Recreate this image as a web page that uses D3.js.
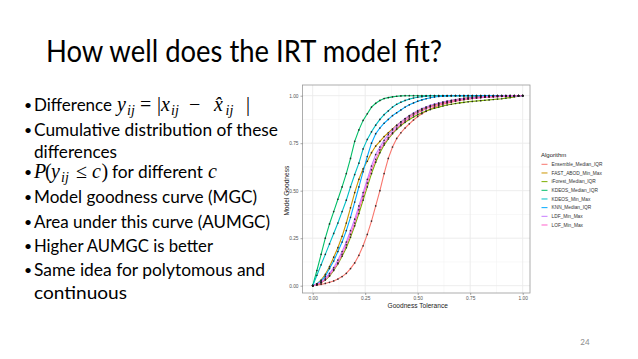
<!DOCTYPE html>
<html><head><meta charset="utf-8">
<script src="https://cdn.jsdelivr.net/npm/d3@7"></script>
<style>html,body{margin:0;padding:0;background:#fff;}svg{display:block;}</style>
</head><body>
<svg id="s" width="638" height="359"></svg>
<script>
const algorithms = ["Ensemble_Median_IQR","FAST_ABOD_Min_Max","iForest_Median_IQR","KDEOS_Median_IQR","KDEOS_Min_Max","KNN_Median_IQR","LDF_Min_Max","LOF_Min_Max"];
const colors = ["#F8766D","#CD9600","#7CAE00","#00BE67","#00BFC4","#00A9FF","#C77CFF","#FF61CC"];
const tolerance = [0,.02,.04,.06,.08,.10,.12,.14,.16,.18,.20,.22,.24,.26,.28,.30,.32,.34,.36,.38,.40,.42,.44,.46,.48,.50,.52,.54,.56,.58,.60,.62,.64,.66,.68,.70,.72,.74,.76,.78,.80,.82,.84,.86,.88,.90,.92,.94,.96,.98,1.00];
const ensembleMedianIQR = [0,.003,.007,.012,.018,.025,.035,.048,.065,.09,.12,.16,.21,.27,.34,.42,.5,.59,.67,.73,.775,.805,.83,.852,.872,.89,.905,.918,.93,.94,.948,.955,.961,.966,.971,.975,.979,.982,.985,.988,.99,.992,.994,.995,.996,.997,.998,.999,.999,1,1];
const fastAbodMinMax = [0,.01,.03,.06,.1,.15,.2,.26,.33,.41,.49,.56,.615,.655,.7,.735,.76,.785,.805,.825,.845,.862,.878,.893,.906,.918,.928,.937,.945,.952,.958,.964,.969,.974,.978,.982,.986,.989,.992,.994,.996,.998,.999,1,1,1,1,1,1,1,1];
const iForestMedianIQR = [0,.006,.015,.03,.05,.08,.115,.155,.2,.255,.315,.38,.45,.52,.59,.65,.7,.74,.772,.8,.823,.843,.86,.875,.888,.9,.91,.919,.927,.934,.94,.946,.951,.955,.959,.962,.965,.968,.97,.972,.974,.976,.978,.98,.982,.984,.987,.99,.994,.997,1];
const kdeosMedianIQR = [0,.08,.165,.25,.325,.39,.455,.52,.59,.67,.76,.82,.87,.905,.94,.96,.975,.985,.99,.994,.997,.999,1,1,1,1,1,1,1,1,1,1,1,1,1,1,1,1,1,1,1,1,1,1,1,1,1,1,1,1,1];
const kdeosMinMax = [0,.055,.11,.165,.22,.275,.33,.39,.45,.52,.585,.645,.72,.77,.81,.845,.875,.9,.92,.94,.955,.966,.975,.982,.988,.992,.995,.998,1,1,1,1,1,1,1,1,1,1,1,1,1,1,1,1,1,1,1,1,1,1,1];
const knnMedianIQR = [0,.01,.025,.05,.09,.13,.18,.23,.29,.36,.44,.52,.6,.68,.75,.8,.83,.855,.875,.895,.91,.925,.94,.952,.962,.971,.978,.984,.989,.993,.996,.998,.999,1,1,1,1,1,1,1,1,1,1,1,1,1,1,1,1,1,1];
const ldfMinMax = [0,.008,.02,.04,.065,.095,.135,.18,.23,.29,.35,.42,.49,.56,.63,.69,.73,.765,.795,.82,.842,.862,.88,.895,.909,.921,.932,.941,.949,.956,.962,.967,.972,.976,.98,.983,.986,.988,.99,.992,.994,.995,.996,.997,.998,.999,.999,1,1,1,1];
const lofMinMax = [0,.006,.016,.032,.055,.085,.12,.165,.215,.27,.33,.4,.47,.54,.61,.665,.715,.75,.78,.806,.83,.85,.868,.884,.898,.91,.921,.931,.94,.947,.954,.96,.965,.97,.974,.978,.981,.984,.986,.988,.99,.992,.993,.994,.995,.996,.997,.998,.999,.999,1];
const seriesValues = [ensembleMedianIQR,fastAbodMinMax,iForestMedianIQR,kdeosMedianIQR,kdeosMinMax,knnMedianIQR,ldfMinMax,lofMinMax];
const tickValues = [0,0.25,0.5,0.75,1];
const tickLabels = ["0.00","0.25","0.50","0.75","1.00"];
const minorTicks = [0.125,0.375,0.625,0.875];

const svg = d3.select("#s");
const sans = "Lato, 'Open Sans', sans-serif";
const serif = "'Liberation Serif', 'DejaVu Serif', serif";
const chartFont = "'Liberation Sans', Arial, sans-serif";

// Slide title
svg.append("text").attr("x",46).attr("y",62).attr("font-family",sans).attr("font-size",30)
  .attr("fill","#000").attr("textLength",396).attr("lengthAdjust","spacingAndGlyphs")
  .text("How well does the IRT model fit?");

// Bullets
const bl = [
  {y:111, t:"Difference", w:78, bullet:true},
  {y:136, t:"Cumulative distribution of these", w:244, bullet:true},
  {y:158, t:"differences", w:83, bullet:false},
  {y:203, t:"Model goodness curve (MGC)", w:223, bullet:true},
  {y:228, t:"Area under this curve (AUMGC)", w:236, bullet:true},
  {y:252, t:"Higher AUMGC is better", w:179, bullet:true},
  {y:276, t:"Same idea for polytomous and", w:231, bullet:true},
  {y:298.5, t:"continuous", w:93, bullet:false}
];
bl.forEach(b=>{
  if(b.bullet) svg.append("text").attr("x",24).attr("y",b.y-1).attr("font-family",sans).attr("font-size",14).text("•");
  svg.append("text").attr("x",34).attr("y",b.y).attr("font-family",sans).attr("font-size",18)
    .attr("textLength",b.w).attr("lengthAdjust","spacingAndGlyphs").text(b.t);
});
svg.append("text").attr("x",24).attr("y",177).attr("font-family",sans).attr("font-size",14).text("•");
function sym(x,y,s,italic){
  return svg.append("text").attr("x",x).attr("y",y).attr("font-family",serif).attr("font-size",20)
    .attr("font-style",italic?"italic":"normal").text(s);
}
function sub(x,y,s){
  return svg.append("text").attr("x",x).attr("y",y+4).attr("font-family",serif).attr("font-size",14)
    .attr("font-style","italic").text(s);
}
// line 1 math: y_ij = |x_ij − x̂_ij|
sym(117,111,"y",true); sub(127,111,"ij");
sym(140,111,"=",false);
sym(157,111,"|",false);
sym(161,111,"x",true); sub(171,111,"ij");
sym(189,111,"−",false);
sym(214,111,"x̂",true); sub(225.5,111,"ij");
sym(246,111,"|",false);
// line 4 math: P(y_ij ≤ c) for different c
sym(34,178,"P",true);
sym(45,178,"(",false);
sym(51,178,"y",true); sub(61,178,"ij");
sym(76,178,"≤",false);
sym(92,178,"c",true);
sym(101.5,178,")",false);
svg.append("text").attr("x",112).attr("y",178).attr("font-family",sans).attr("font-size",18)
  .attr("textLength",91).attr("lengthAdjust","spacingAndGlyphs").text("for different");
sym(208,178,"c",true);

// page number
svg.append("text").attr("x",585).attr("y",345).attr("text-anchor","middle").attr("font-family",sans)
  .attr("font-size",8).attr("fill","#8c8c8c").text("24");

// Chart
const x = d3.scaleLinear().domain([0,1]).range([312.7,522.7]);
const y = d3.scaleLinear().domain([0,1]).range([285.7,95.7]);
const panel = {x0:302.5, x1:530, y0:85, y1:293};
const g = svg.append("g");
minorTicks.forEach(v=>{
  g.append("line").attr("x1",x(v)).attr("x2",x(v)).attr("y1",panel.y0).attr("y2",panel.y1).attr("stroke","#f4f4f4").attr("stroke-width",0.6);
  g.append("line").attr("y1",y(v)).attr("y2",y(v)).attr("x1",panel.x0).attr("x2",panel.x1).attr("stroke","#f4f4f4").attr("stroke-width",0.6);
});
tickValues.forEach(v=>{
  g.append("line").attr("x1",x(v)).attr("x2",x(v)).attr("y1",panel.y0).attr("y2",panel.y1).attr("stroke","#ebebeb").attr("stroke-width",0.9);
  g.append("line").attr("y1",y(v)).attr("y2",y(v)).attr("x1",panel.x0).attr("x2",panel.x1).attr("stroke","#ebebeb").attr("stroke-width",0.9);
});
svg.append("rect").attr("x",panel.x0).attr("y",panel.y0).attr("width",panel.x1-panel.x0).attr("height",panel.y1-panel.y0)
  .attr("fill","none").attr("stroke","#9a9a9a").attr("stroke-width",0.8);

const line = d3.line().x((d,i)=>x(tolerance[i])).y(d=>y(d));
seriesValues.forEach((vals,k)=>{
  svg.append("path").datum(vals).attr("d",line).attr("fill","none").attr("stroke",colors[k]).attr("stroke-width",1.1);
});
seriesValues.forEach((vals,k)=>{
  svg.append("g").selectAll("circle").data(vals).join("circle")
    .attr("cx",(d,i)=>x(tolerance[i])).attr("cy",d=>y(d)).attr("r",0.85).attr("fill","#1a1a1a").attr("fill-opacity",0.85);
});

// axes
const xAxis = svg.append("g").attr("transform",`translate(0,${panel.y1})`)
  .call(d3.axisBottom(x).tickValues(tickValues).tickFormat((d,i)=>tickLabels[i]).tickSize(2).tickPadding(2));
const yAxis = svg.append("g").attr("transform",`translate(${panel.x0},0)`)
  .call(d3.axisLeft(y).tickValues(tickValues).tickFormat((d,i)=>tickLabels[i]).tickSize(2).tickPadding(2));
[xAxis,yAxis].forEach(a=>{
  a.select(".domain").remove();
  a.selectAll(".tick line").attr("stroke","#555").attr("stroke-width",0.5);
  a.selectAll(".tick text").attr("font-family",chartFont).attr("font-size",4.8).attr("fill","#555");
});
svg.append("text").attr("x",(x(0)+x(1))/2).attr("y",308).attr("text-anchor","middle")
  .attr("font-family",chartFont).attr("font-size",6.6).attr("fill","#222").text("Goodness Tolerance");
svg.append("text").attr("transform",`translate(289,${(y(0)+y(1))/2}) rotate(-90)`).attr("text-anchor","middle")
  .attr("font-family",chartFont).attr("font-size",6.6).attr("fill","#222").text("Model Goodness");

// legend
const leg = svg.append("g");
leg.append("text").attr("x",541).attr("y",157).attr("font-family",chartFont).attr("font-size",6).attr("fill","#222").text("Algorithm");
algorithms.forEach((a,i)=>{
  const yy = 164.3 + i*8.67;
  leg.append("line").attr("x1",541.5).attr("x2",547.5).attr("y1",yy).attr("y2",yy).attr("stroke",colors[i]).attr("stroke-width",1);
  leg.append("text").attr("x",551.5).attr("y",yy+1.7).attr("font-family",chartFont).attr("font-size",4.8).attr("fill","#333").text(a);
});
</script>
</body></html>
